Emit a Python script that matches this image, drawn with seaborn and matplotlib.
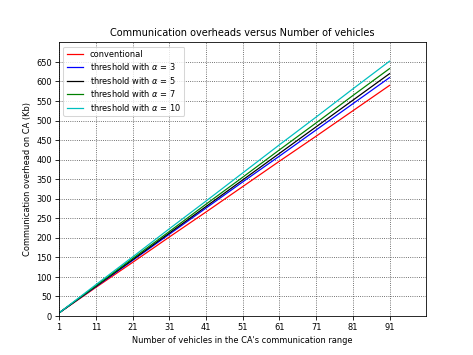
import numpy as np
import pandas as pd
import matplotlib
matplotlib.use("Agg")
import matplotlib.pyplot as plt
import seaborn as sns

plt.rcParams["font.size"] = 8

# number of vehicles in range
vehicles = [1, 11, 21, 31, 41, 51, 61, 71, 81, 91]

# communication overhead (Kb)
conventional = [8, 73, 137, 202, 266, 331, 396, 460, 525, 590]
alpha_3 = [8, 75, 142, 209, 276, 343, 409, 476, 543, 610]
alpha_5 = [8, 76, 144, 212, 280, 348, 416, 484, 552, 620]
alpha_7 = [8, 77, 147, 216, 286, 355, 425, 494, 564, 633]
alpha_10 = [8, 80, 151, 223, 294, 366, 438, 509, 581, 652]

labels = ["conventional", r"threshold with $\alpha$ = 3", r"threshold with $\alpha$ = 5",
          r"threshold with $\alpha$ = 7", r"threshold with $\alpha$ = 10"]
colors = ["red", "blue", "black", "green", "c"]

rows = []
for lab, vals in zip(labels, [conventional, alpha_3, alpha_5, alpha_7, alpha_10]):
    for x, y in zip(vehicles, vals):
        rows.append({"vehicles": x, "overhead": y, "scheme": lab})
df = pd.DataFrame(rows)

fig, ax = plt.subplots(figsize=(6.4, 4.8), dpi=74)
sns.lineplot(data=df, x="vehicles", y="overhead", hue="scheme",
             palette=dict(zip(labels, colors)), linewidth=1.2, ax=ax)

ax.set_xlim(1, 101)
ax.set_ylim(0, 700)
ax.set_xticks(vehicles)
ax.set_yticks(np.arange(0, 651, 50))
ax.grid(True, linestyle=":", color="0.25", linewidth=0.8)
ax.set_title("Communication overheads versus Number of vehicles", fontsize=9.5)
ax.set_xlabel("Number of vehicles in the CA's communication range")
ax.set_ylabel("Communication overhead on CA (Kb)")
ax.legend(loc="upper left", title=None, labelspacing=0.3)

plt.savefig("out.png", dpi=74)
